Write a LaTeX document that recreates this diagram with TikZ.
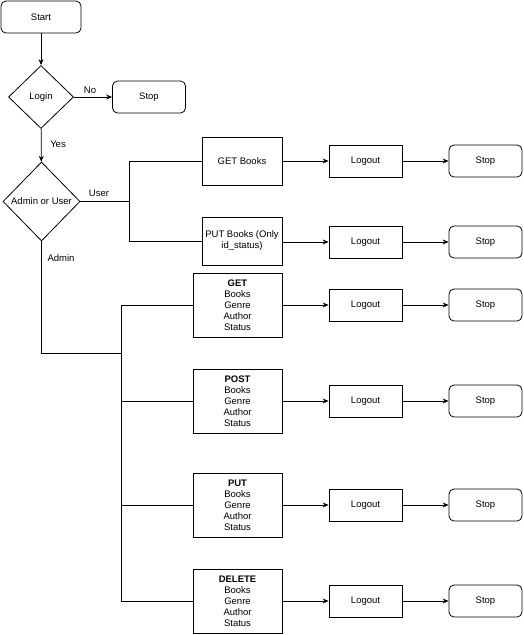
\documentclass[tikz,border=0pt]{standalone}
\usepackage{fontspec}
\setmainfont{Liberation Sans}
\usetikzlibrary{shapes.geometric,arrows.meta}
\begin{document}
\begin{tikzpicture}[x=1pt,y=-1pt,
  every node/.style={font=\fontsize{9.5}{11}\selectfont, text=black},
  base/.style={draw=black, line width=0.8pt, inner sep=1pt, align=center},
  term/.style={base, rounded corners=5pt, minimum width=73pt, minimum height=32pt},
  proc/.style={base, minimum width=73pt, minimum height=32pt},
  opbox/.style={base, minimum width=80pt, minimum height=48pt},
  crud/.style={base, minimum width=89pt, minimum height=64pt},
  decide/.style={base, diamond, inner sep=0pt},
  line/.style={draw=black, line width=0.8pt},
  arr/.style={line, -{Stealth[length=6pt,width=5pt]}},
  lbl/.style={inner sep=0pt}
]
\useasboundingbox (0,0) rectangle (523,635);

% main column
\node[term, minimum width=80pt] (start) at (41,17) {Start};
\node[decide, minimum width=65pt, minimum height=63pt] (login) at (41,97) {Login};
\node[term] (stop0) at (149,97) {Stop};
\node[decide, minimum width=77pt, minimum height=79pt] (role) at (41.5,201.5) {Admin or User};

\draw[arr] (start) -- (login);
\draw[arr] (login) -- (stop0);
\draw[arr] (login) -- (role);
\node[lbl] (lno) at (90,90) {No};
\node[lbl] (lyes) at (58,144) {Yes};
\node[lbl] (luser) at (99,193) {User};
\node[lbl] (ladmin) at (61,258) {Admin};

% user branch
\node[opbox] (ugetb) at (242,161) {GET Books};
\node[proc] (ulog1) at (365.5,161) {Logout};
\node[term] (ustop1) at (485.5,161) {Stop};
\node[opbox] (uputb) at (242,241) {PUT Books (Only\\id\_status)};
\node[proc] (ulog2) at (365.5,242) {Logout};
\node[term] (ustop2) at (485.5,242) {Stop};

\coordinate (usplit) at (129,201.5);
\draw[line] (role.east) -- (usplit);
\draw[line] (usplit) |- (ugetb.west);
\draw[line] (usplit) |- (uputb.west);
\draw[arr] (ugetb) -- (ulog1);
\draw[arr] (ulog1) -- (ustop1);
\draw[arr] (uputb.east |- ulog2) -- (ulog2);
\draw[arr] (ulog2) -- (ustop2);

% admin branch
\node[crud] (aget) at (237.5,305) {\textbf{GET}\\Books\\Genre\\Author\\Status};
\node[crud] (apost) at (237.5,401) {\textbf{POST}\\Books\\Genre\\Author\\Status};
\node[crud] (aput) at (237.5,505) {\textbf{PUT}\\Books\\Genre\\Author\\Status};
\node[crud] (adel) at (237.5,601) {\textbf{DELETE}\\Books\\Genre\\Author\\Status};

\coordinate (abend) at (41.5,353);
\coordinate (ajoin) at (121,353);
\coordinate (atop) at (121,305);
\coordinate (abot) at (121,601);
\draw[line] (role.south) -- (abend) -- (ajoin);
\draw[line] (atop) -- (abot);
\draw[line] (atop) -- (aget.west);
\draw[line] (121,401) -- (apost.west);
\draw[line] (121,505) -- (aput.west);
\draw[line] (abot) -- (adel.west);

\foreach \n/\y in {aget/305, apost/401, aput/505, adel/601}{
  \node[proc] (\n log) at (365.5,\y) {Logout};
  \node[term] (\n stop) at (485.5,\y) {Stop};
  \draw[arr] (\n) -- (\n log);
  \draw[arr] (\n log) -- (\n stop);
}
\end{tikzpicture}
\end{document}
